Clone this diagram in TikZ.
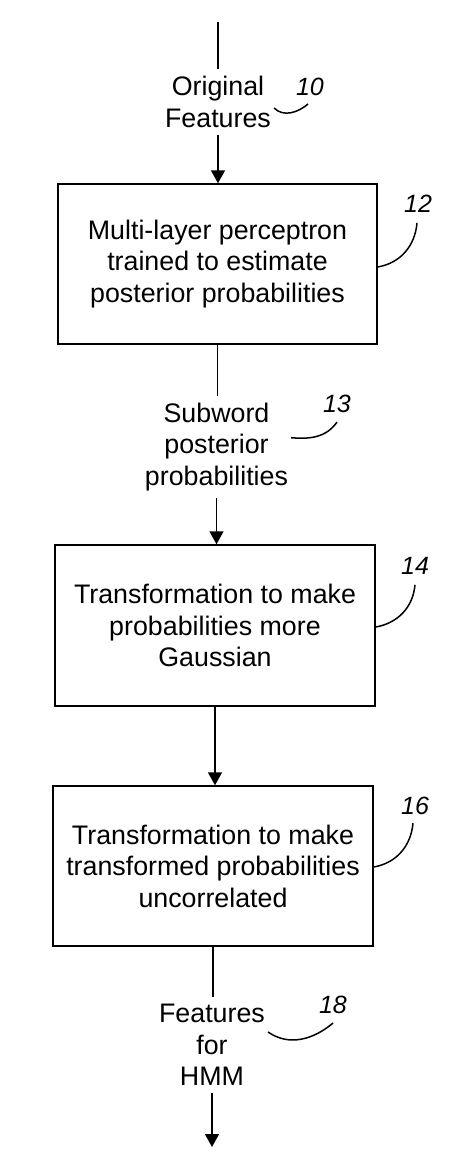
\documentclass[tikz,border=0pt]{standalone}
\usepackage{fontspec}
\setmainfont{Liberation Sans}
\usetikzlibrary{arrows.meta}
\tikzset{
  stepbox/.style={draw, line width=1.5pt, minimum width=320pt, minimum height=160pt,
    inner sep=0pt, align=center, font=\fontsize{26.8}{31.5}\selectfont},
  flowlabel/.style={inner xsep=3pt, inner ysep=7pt, align=center,
    font=\fontsize{26.8}{31.5}\selectfont},
  refnum/.style={inner sep=2pt, font=\fontsize{25}{25}\selectfont\itshape},
  conn/.style={line width=1.5pt},
  arr/.style={line width=1.5pt, -{Triangle[width=14pt,length=13pt]}},
  leader/.style={line width=1.5pt},
}
\begin{document}
\begin{tikzpicture}[x=1pt,y=-1pt]
\useasboundingbox (0,0) rectangle (474,1168);
% boxes
\node[stepbox, minimum width=319pt] (b12) at (217.5,264) {Multi-layer perceptron\\trained to estimate\\posterior probabilities};
\node[stepbox, minimum height=161pt] (b14) at (215,625.5) {Transformation to make\\probabilities more\\Gaussian};
\node[stepbox] (b16) at (213,866) {Transformation to make\\transformed probabilities\\uncorrelated};
% flow labels
\node[flowlabel] (orig) at (218,102) {Original\\Features};
\node[flowlabel] (sub) at (216.5,446.7) {Subword\\posterior\\probabilities};
\node[flowlabel] (hmm) at (212,1045) {Features\\for\\HMM};
% reference numbers
\node[refnum] (n10) at (310,87) {10};
\node[refnum] (n12) at (418,204) {12};
\node[refnum] (n13) at (337,404) {13};
\node[refnum] (n14) at (415,566) {14};
\node[refnum] (n16) at (415,806) {16};
\node[refnum] (n18) at (333,1005) {18};
% free ends
\coordinate (start) at (218,22);
\coordinate (finish) at (212,1147);
% connectors
\draw[conn] (start) -- (orig.north);
\draw[arr] (orig.south) -- (orig.south |- b12.north);
\draw[conn] (b12.south) -- (b12.south |- sub.north);
\draw[arr] (sub.south) -- (sub.south |- b14.north);
\draw[arr] (b14.south) -- (b14.south |- b16.north);
\draw[conn] (b16.south) -- (b16.south |- hmm.north);
\draw[arr] (hmm.south) -- (hmm.south |- finish);
% leaders
\draw[leader] ([yshift=-6pt]orig.east) to[out=-45,in=-140] ([xshift=-2pt,yshift=-6pt]n10.south);
\draw[leader] ([yshift=-3pt]b12.east) to[out=10,in=-95] ([xshift=-1pt,yshift=-8pt]n12.south);
\draw[leader] ([yshift=9pt]sub.east) to[out=-5,in=-125] ([yshift=-7pt]n13.south);
\draw[leader] ([yshift=-1.5pt]b14.east) to[out=10,in=-95] ([yshift=-8pt]n14.south);
\draw[leader] ([yshift=-1pt]b16.east) to[out=10,in=-95] ([xshift=-2pt,yshift=-6pt]n16.south);
\draw[leader] ([yshift=13pt]hmm.east) to[out=-35,in=-140] ([yshift=-7pt]n18.south);
\end{tikzpicture}
\end{document}
